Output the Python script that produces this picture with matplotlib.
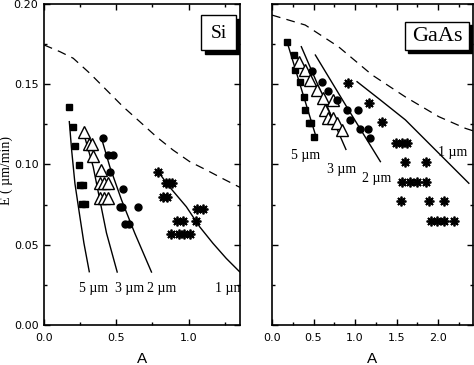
import matplotlib

matplotlib.use("Agg")
import matplotlib.pyplot as plt
from matplotlib.ticker import MultipleLocator

# ---- Si panel data -------------------------------------------------------
si_sq_x = [0.175, 0.198, 0.214, 0.244, 0.25, 0.27, 0.26, 0.28]
si_sq_y = [0.1356, 0.1236, 0.1115, 0.0997, 0.0872, 0.0872, 0.0752, 0.0752]
si_tri_x = [0.276, 0.31, 0.335, 0.34, 0.391, 0.39, 0.415, 0.44, 0.39, 0.415, 0.44]
si_tri_y = [0.1205, 0.113, 0.113, 0.105, 0.0966, 0.0887, 0.0887, 0.0887,
            0.0789, 0.0789, 0.0789]
si_circ_x = [0.405, 0.44, 0.48, 0.455, 0.543, 0.524, 0.54, 0.651, 0.56, 0.59]
si_circ_y = [0.1162, 0.1059, 0.1059, 0.0955, 0.0845, 0.0733, 0.0733, 0.0733,
             0.0629, 0.0629]
si_star_x = [0.79, 0.84, 0.865, 0.885, 0.82, 0.85, 1.06, 1.10,
             0.92, 0.96, 1.05, 0.88, 0.93, 0.97, 1.01]
si_star_y = [0.0955, 0.0885, 0.0885, 0.0885, 0.080, 0.080, 0.072, 0.072,
             0.065, 0.065, 0.065, 0.057, 0.057, 0.057, 0.057]

si_5um_x = [0.175, 0.191, 0.214, 0.248, 0.276, 0.313]
si_5um_y = [0.1267, 0.109, 0.088, 0.0675, 0.051, 0.0332]
si_3um_x = [0.271, 0.34, 0.386, 0.432, 0.506]
si_3um_y = [0.1205, 0.0986, 0.0779, 0.0573, 0.033]
si_2um_x = [0.398, 0.455, 0.536, 0.628, 0.743]
si_2um_y = [0.1162, 0.0986, 0.0779, 0.0571, 0.033]
si_1um_x = [0.79, 0.857, 0.984, 1.076, 1.168, 1.26, 1.352]
si_1um_y = [0.0955, 0.0872, 0.0737, 0.0612, 0.0509, 0.0415, 0.0332]
si_dash_x = [0.0, 0.11, 0.202, 0.317, 0.432, 0.547, 0.662, 0.777, 0.892,
             1.007, 1.122, 1.24, 1.36]
si_dash_y = [0.1745, 0.1703, 0.1662, 0.1568, 0.1464, 0.136, 0.1267, 0.1173,
             0.109, 0.1018, 0.0966, 0.091, 0.0855]

# ---- GaAs panel data -----------------------------------------------------
ga_sq_x = [0.18, 0.261, 0.281, 0.341, 0.38, 0.40, 0.44, 0.475, 0.50]
ga_sq_y = [0.1766, 0.1682, 0.159, 0.1516, 0.1423, 0.134, 0.1257, 0.1257, 0.1173]
ga_tri_x = [0.32, 0.40, 0.46, 0.54, 0.62, 0.74, 0.64, 0.68, 0.74, 0.78, 0.84]
ga_tri_y = [0.1641, 0.159, 0.1527, 0.1465, 0.1412, 0.1402, 0.134, 0.1288,
            0.1288, 0.1257, 0.1215]
ga_circ_x = [0.48, 0.60, 0.68, 0.78, 0.90, 1.04, 0.94, 1.06, 1.16, 1.18]
ga_circ_y = [0.158, 0.1516, 0.1455, 0.1402, 0.134, 0.134, 0.1278, 0.122,
             0.122, 0.1163]
ga_star_x = [0.92, 1.165, 1.325, 1.49, 1.56, 1.63, 1.606, 1.855,
             1.57, 1.66, 1.75, 1.85, 1.55, 1.89, 2.07, 1.91, 1.99, 2.07, 2.19]
ga_star_y = [0.151, 0.1381, 0.1267, 0.1136, 0.1136, 0.1136, 0.1018, 0.1018,
             0.0889, 0.0889, 0.0889, 0.0889, 0.077, 0.077, 0.077,
             0.065, 0.065, 0.065, 0.065]

ga_5um_x = [0.18, 0.36, 0.542]
ga_5um_y = [0.1766, 0.146, 0.1153]
ga_3um_x = [0.353, 0.62, 0.89]
ga_3um_y = [0.1734, 0.1414, 0.1094]
ga_2um_x = [0.522, 0.91, 1.305]
ga_2um_y = [0.1682, 0.135, 0.1018]
ga_1um_x = [1.024, 1.30, 1.606, 2.008, 2.37]
ga_1um_y = [0.1516, 0.1404, 0.1278, 0.107, 0.0883]
ga_dash_x = [0.0, 0.40, 0.80, 1.205, 1.606, 2.008, 2.33, 2.42]
ga_dash_y = [0.1931, 0.1869, 0.1734, 0.1558, 0.1421, 0.1298, 0.1225, 0.121]

SERIF = "Liberation Serif"
SANS = "Liberation Sans"

fig = plt.figure(figsize=(4.74, 3.65), dpi=100)
ax1 = fig.add_axes([44 / 474, 1 - 325 / 365, (240 - 44) / 474, 321 / 365])
ax2 = fig.add_axes([272 / 474, 1 - 325 / 365, (473 - 272) / 474, 321 / 365])


def scatter_sets(ax, sq, tri, circ, star):
    ax.plot(*sq, ls="none", marker="s", ms=5, color="black")
    ax.plot(*tri, ls="none", marker="^", ms=8, mfc="white", mec="black", mew=1.0)
    ax.plot(*circ, ls="none", marker="o", ms=5, color="black")
    ax.plot(*star, ls="none", marker=(8, 2, 0), ms=7, mec="black", mew=1.3)


def shadow_box(ax, x0, y0, x1, y1, dx, dy, label, size):
    # shadow first, then white box with black edge, then the label
    ax.add_patch(plt.Rectangle((x0 + dx, y0 - dy), x1 - x0, y1 - y0,
                               transform=ax.transAxes, color="black", zorder=6))
    ax.add_patch(plt.Rectangle((x0, y0), x1 - x0, y1 - y0, transform=ax.transAxes,
                               fc="white", ec="black", lw=1.0, zorder=7,
                               clip_on=False))
    ax.text((x0 + x1) / 2, (y0 + y1) / 2 - 0.003, label, transform=ax.transAxes,
            family=SERIF, fontsize=size, ha="center", va="center", zorder=8)


for ax in (ax1, ax2):
    ax.set_ylim(0, 0.20)
    ax.yaxis.set_major_locator(MultipleLocator(0.05))
    ax.yaxis.set_minor_locator(MultipleLocator(0.025))
    ax.xaxis.set_major_locator(MultipleLocator(0.5))
    ax.xaxis.set_minor_locator(MultipleLocator(0.25))
    ax.tick_params(which="both", direction="in", top=True, right=True,
                   labelsize=8, width=1.0)
    ax.tick_params(which="major", length=4)
    ax.tick_params(axis="x", which="major", pad=6)
    ax.tick_params(axis="y", which="major", pad=4)
    ax.tick_params(which="minor", length=2.5)
    for s in ax.spines.values():
        s.set_linewidth(1.2)
    ax.set_xlabel("A", family=SANS, fontsize=11, labelpad=6)

# ---- Si ----
ax1.set_xlim(0, 1.355)
ax1.yaxis.set_major_formatter(lambda v, p: f"{v:.2f}")
ax1.xaxis.set_major_formatter(lambda v, p: f"{v:.1f}")
ax1.plot(si_dash_x, si_dash_y, color="black", lw=0.9, dashes=(7, 5))
for xs, ys in [(si_5um_x, si_5um_y), (si_3um_x, si_3um_y),
               (si_2um_x, si_2um_y), (si_1um_x, si_1um_y)]:
    ax1.plot(xs, ys, color="black", lw=1.0)
scatter_sets(ax1, (si_sq_x, si_sq_y), (si_tri_x, si_tri_y),
             (si_circ_x, si_circ_y), (si_star_x, si_star_y))
for txt, x in [("5 µm", 0.34), ("3 µm", 0.59), ("2 µm", 0.81), ("1 µm", 1.28)]:
    ax1.text(x, 0.023, txt, family=SERIF, fontsize=10, ha="center", va="center",
             clip_on=True)
shadow_box(ax1, 0.801, 0.857, 0.98, 0.966, 0.02, 0.0125, "Si", 14)
ax1.set_ylabel("E ( µm/min)", family=SERIF, fontsize=10)
ax1.yaxis.set_label_coords(-0.16, 0.48)

# ---- GaAs ----
ax2.set_xlim(0, 2.42)
ax2.tick_params(labelleft=False)
ax2.xaxis.set_major_formatter(lambda v, p: f"{v:.1f}")
ax2.plot(ga_dash_x, ga_dash_y, color="black", lw=0.9, dashes=(7, 5))
for xs, ys in [(ga_5um_x, ga_5um_y), (ga_3um_x, ga_3um_y),
               (ga_2um_x, ga_2um_y), (ga_1um_x, ga_1um_y)]:
    ax2.plot(xs, ys, color="black", lw=1.0)
scatter_sets(ax2, (ga_sq_x, ga_sq_y), (ga_tri_x, ga_tri_y),
             (ga_circ_x, ga_circ_y), (ga_star_x, ga_star_y))
for txt, x, y in [("5 µm", 0.40, 0.1059), ("3 µm", 0.84, 0.0966),
                  ("2 µm", 1.265, 0.0914), ("1 µm", 2.17, 0.1074)]:
    ax2.text(x, y, txt, family=SERIF, fontsize=10, ha="center", va="center")
shadow_box(ax2, 0.662, 0.857, 0.98, 0.944, 0.015, 0.01, "GaAs", 16)

fig.savefig("out.png", dpi=100)
